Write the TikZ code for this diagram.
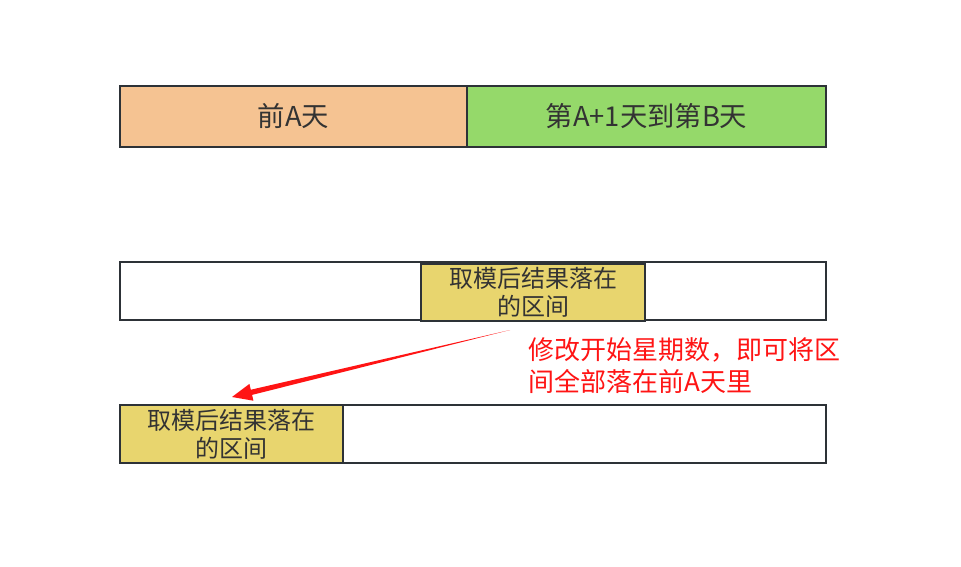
\documentclass[tikz,border=0pt]{standalone}
\usepackage{fontspec}
\setmainfont{Noto Sans CJK SC}
\usetikzlibrary{calc}
\definecolor{barline}{RGB}{45,50,55}
\definecolor{txtgray}{RGB}{51,51,51}
\definecolor{daysA}{RGB}{245,195,146}
\definecolor{daysB}{RGB}{149,217,106}
\definecolor{modfill}{RGB}{232,213,110}
\definecolor{noteRed}{RGB}{255,20,20}
\tikzset{
  bar/.style={draw=barline, line width=1.8pt},
  barlabel/.style={text=txtgray, font=\fontsize{20.5}{24}\selectfont},
  modlabel/.style={text=txtgray, align=center, font=\fontsize{18}{21}\selectfont},
  notelabel/.style={text=noteRed, align=left, font=\fontsize{19.5}{24}\selectfont},
}
\begin{document}
\begin{tikzpicture}[x=0.75pt,y=0.75pt,yscale=-1,xscale=1]
\useasboundingbox (0,0) rectangle (961,567);

%top bar: first A days, then A+1 .. B
\draw [bar, fill=daysA] (120,86) rectangle (467,147);
\draw [bar, fill=daysB] (467,86) rectangle (826,147);
\node [barlabel] (firstA) at (293.5,116.5) {前A天};
\node [barlabel] (restB) at (646.5,116.5) {第A+1天到第B天};

%middle bar
\draw [bar, fill=white] (120,262) rectangle (826,320);
\draw [bar, fill=modfill] (421,264) rectangle (645,321);
\node [modlabel] (modMid) at (533,292.5) {取模后结果落在\\的区间};

%bottom bar
\draw [bar, fill=white] (120,405) rectangle (826,463);
\draw [bar, fill=modfill] (120,405) rectangle (343,463);
\node [modlabel] (modLow) at (231.5,434) {取模后结果落在\\的区间};

%note
\node [notelabel, anchor=west] (note) at (524,366) {修改开始星期数，即可将区\\间全部落在前A天里};

%arrow (tapered)
\coordinate (arrS) at (510,330);
\coordinate (arrE) at (232,397);
\coordinate (arrH) at ($(arrE)!15pt!(arrS)$);
\fill [noteRed] (arrS) -- ($(arrH)!2pt!90:(arrE)$) -- ($(arrH)!6.5pt!90:(arrE)$) -- (arrE)
  -- ($(arrH)!6.5pt!-90:(arrE)$) -- ($(arrH)!2pt!-90:(arrE)$) -- cycle;

\end{tikzpicture}
\end{document}
